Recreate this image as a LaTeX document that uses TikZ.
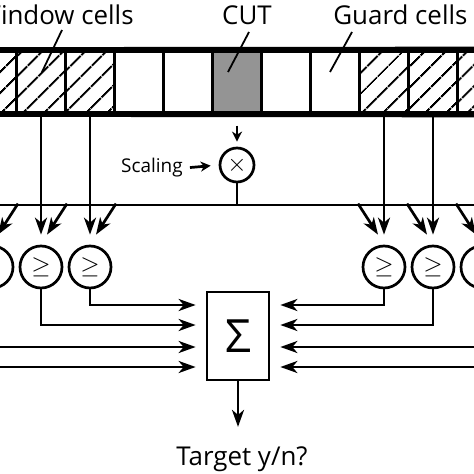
\documentclass[tikz,border=0pt]{standalone}
\usepackage{fontspec}
\setmainfont{Open Sans}
\usetikzlibrary{arrows.meta,patterns.meta,calc}

\begin{document}
\begin{tikzpicture}[
    x=1bp, y=-1bp,
    line width=2.7bp,
    >={Stealth[length=17bp,width=12bp,inset=5bp]},
    cell/.style={draw,line width=3.2bp,minimum width=49bp,minimum height=62bp,inner sep=0pt},
    window/.style={cell,pattern={Lines[angle=45,distance=15bp,line width=2.2bp]}},
    cut/.style={cell,fill=black!42},
    cmp/.style={draw,circle,minimum size=42bp,inner sep=0pt,font=\fontsize{26}{26}\selectfont},
    txt/.style={font=\fontsize{26}{30}\selectfont,inner sep=0pt},
    lead/.style={line width=1.8bp},
    small/.style={-{Stealth[length=10bp,width=10bp,inset=3bp]}},
    tofeed/.style={->,shorten >=10bp},
  ]
  \clip (0,0) rectangle (474,474);

  % range cells, CUT is c5
  \foreach \i in {0,1,2,8,9,10}
    \node[window] (c\i) at ({49*\i-8},82) {};
  \foreach \i in {3,4,6,7}
    \node[cell] (c\i) at ({49*\i-8},82) {};
  \node[cut] (c5) at (237,82) {};
  \draw[line width=5.5bp] (c0.north west) -- (c10.north east);
  \draw[line width=5.5bp] (c0.south west) -- (c10.south east);

  % labels on top
  \node[txt,anchor=base east] (lwin) at (135,25) {Window cells};
  \node[txt,anchor=base] (lcut) at (247,25) {CUT};
  \node[txt,anchor=base west] (lguard) at (332,25) {Guard cells};
  \draw[lead] ($(c1)+(21,-52)$) -- ($(c1)+(1,-10)$);
  \draw[lead] ($(c5)+(12,-50)$) -- ($(c5)+(-9,-10)$);
  \draw[lead] ($(c7)+(17,-50)$) -- ($(c7)+(-5,-10)$);

  % threshold
  \node[draw,circle,minimum size=34bp,inner sep=0pt,font=\fontsize{28}{28}\selectfont] (mul) at (237,165) {$\times$};
  \node[font=\fontsize{19}{20}\selectfont,anchor=base east,inner sep=0pt] (scl) at (184,173) {Scaling};
  \draw[small,shorten <=6bp,shorten >=8bp] (scl.east) -- (mul.west);
  \draw[small,shorten <=11bp,shorten >=5bp] (c5.south) -- (mul.north);
  \coordinate (bus) at (237,205);
  \coordinate (busL) at (-20,205);
  \coordinate (busR) at (494,205);
  \draw (mul) -- (bus);
  \draw (busL) -- (busR);

  % comparators
  \foreach \i in {0,1,2,8,9,10} {
    \node[cmp] (k\i) at ({49*\i-8},267) {$\geq$};
    \draw[->,shorten >=10bp] (c\i) -- (k\i);
  }
  \foreach \i in {0,1,2}
    \draw[->] ($(k\i.north)+(26,-41)$) -- ($(k\i.north)+(6,-10)$);
  \foreach \i in {8,9,10}
    \draw[->] ($(k\i.north)+(-26,-41)$) -- ($(k\i.north)+(-6,-10)$);

  % sum
  \node[draw,minimum width=62bp,minimum height=88bp,inner sep=0pt,font=\fontsize{46}{46}\selectfont] (sum) at (238,336) {Σ};
  \coordinate (farL) at (-20,367);
  \coordinate (farR) at (494,367);
  \draw[tofeed] (k2.south) |- ($(sum.west)+(0,-31)$);
  \draw[tofeed] (k1.south) |- ($(sum.west)+(0,-11)$);
  \draw[tofeed] (k0.south) |- ($(sum.west)+(0,11)$);
  \draw[tofeed] (farL) -- (farL -| sum.west);
  \draw[tofeed] (k8.south) |- ($(sum.east)+(0,-31)$);
  \draw[tofeed] (k9.south) |- ($(sum.east)+(0,-11)$);
  \draw[tofeed] (k10.south) |- ($(sum.east)+(0,11)$);
  \draw[tofeed] (farR) -- (farR -| sum.east);

  \node[txt,anchor=base] (target) at (242,465) {Target y/n?};
  \draw[->,shorten >=18bp] (sum.south) -- (sum.south |- target.north);
\end{tikzpicture}
\end{document}
